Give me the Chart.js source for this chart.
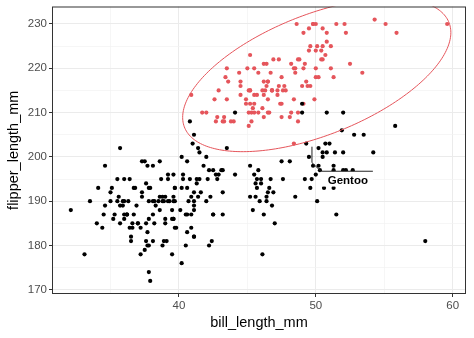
<!DOCTYPE html>
<html>
<head>
<meta charset="utf-8">
<script src="https://cdn.jsdelivr.net/npm/chart.js@4.4.1/dist/chart.umd.min.js"></script>
<style>
  html, body { margin: 0; padding: 0; background: #fff; }
  canvas { display: block; }
</style>
</head>
<body>
<canvas id="scatter" width="474" height="338"></canvas>
<script>
// bill_length_mm / flipper_length_mm per species
const adelieBill = [39.1,39.5,40.3,36.7,39.3,38.9,39.2,34.1,42.0,37.8,37.8,41.1,38.6,34.6,36.6,38.7,42.5,34.4,46.0,
  37.8,37.7,35.9,38.2,38.8,35.3,40.6,40.5,37.9,40.5,
  39.5,37.2,39.5,40.9,36.4,39.2,38.8,42.2,37.6,39.8,36.5,40.8,36.0,44.1,37.0,39.6,41.1,37.5,36.0,42.3,
  39.6,40.1,35.0,42.0,34.5,41.4,39.0,40.6,36.5,37.6,35.7,41.3,37.6,41.1,36.4,41.6,35.5,41.1,
  35.9,41.8,33.5,39.7,39.6,45.8,35.5,42.8,40.9,37.2,36.2,42.1,34.6,42.9,36.7,35.1,
  37.3,41.3,36.3,36.9,38.3,38.9,35.7,41.1,34.0,39.6,36.2,40.8,38.1,40.3,33.1,43.2,
  35.0,41.0,37.7,37.8,37.9,39.7,38.6,38.2,38.1,43.2,38.1,45.6,39.7,42.2,39.6,42.7,
  38.6,37.3,35.7,41.1,36.2,37.7,40.2,41.4,35.2,40.6,38.8,41.5,39.0,44.1,38.5,43.1,
  36.8,37.5,38.1,41.1,35.6,40.2,37.0,39.7,40.2,40.6,32.1,40.7,37.3,39.0,39.2,36.6,36.0,37.8,36.0,41.5];
const adelieFlipper = [181,186,195,193,190,181,195,193,190,186,180,182,191,198,185,195,197,184,194,
  174,180,189,185,180,187,183,187,172,180,
  178,178,188,184,195,196,190,180,181,184,182,195,186,196,185,190,182,179,190,191,
  186,188,190,200,187,191,186,193,181,194,185,195,185,192,184,192,195,188,
  190,198,190,190,196,197,190,195,191,184,187,195,189,196,187,193,
  191,194,190,189,189,190,202,205,185,186,187,208,190,196,178,192,
  192,203,183,190,193,184,199,190,181,197,198,191,193,197,191,196,
  188,199,189,189,187,198,176,202,186,199,191,195,191,210,190,197,
  193,199,187,190,191,200,185,193,193,187,188,190,192,185,190,184,195,193,187,201];

const gentooBill = [46.1,50.0,48.7,50.0,47.6,46.5,45.4,46.7,43.3,46.8,
  40.9,49.0,45.5,48.4,45.8,49.3,42.0,49.2,46.2,48.7,
  50.2,45.1,46.5,46.3,42.9,46.1,44.5,47.8,48.2,50.0,
  47.3,42.8,45.1,59.6,49.1,48.4,42.6,44.4,44.0,48.7,
  42.7,49.6,45.3,49.6,50.5,43.6,45.5,50.5,44.9,45.2,
  46.6,48.5,45.1,50.1,46.5,45.0,43.8,45.5,43.2,50.4,
  45.3,46.2,45.7,54.3,45.8,49.8,46.2,49.5,43.5,50.7,
  47.7,46.4,48.2,46.5,46.4,48.6,47.5,51.1,45.2,45.2,
  49.1,52.5,47.4,50.0,44.9,50.8,43.4,51.3,47.5,52.1,
  47.5,52.2,45.5,49.5,44.5,50.8,49.4,46.9,48.4,51.1,
  48.5,55.9,47.2,49.1,47.3,46.8,41.7,53.4,43.3,48.1,
  50.5,49.8,43.5,51.5,46.2,55.1,44.5,48.8,47.2,46.8,
  50.4,45.2,49.9];
const gentooFlipper = [211,230,210,218,215,210,211,219,209,215,
  214,216,214,213,210,217,210,221,209,222,
  218,215,213,215,215,215,216,215,210,220,
  222,209,207,230,220,220,213,219,208,208,
  208,225,210,216,222,217,210,225,213,215,
  210,220,210,225,217,220,208,220,208,224,
  208,221,214,231,219,230,214,229,220,223,
  216,221,221,217,216,230,209,220,215,223,
  212,221,212,224,212,228,218,218,212,230,
  218,228,212,224,214,226,216,222,203,225,
  219,228,215,228,216,215,210,219,208,209,
  229,230,213,230,217,230,217,222,214,215,
  222,212,213];

const chinstrapBill = [46.5,50.0,51.3,45.4,52.7,45.2,46.1,51.3,46.0,51.3,
  46.6,51.7,47.0,52.0,45.9,50.5,50.3,58.0,46.4,49.2,
  42.4,48.5,43.2,50.6,46.7,52.0,50.5,49.5,46.4,52.8,
  40.9,54.2,42.5,51.0,49.7,47.5,47.6,52.0,46.9,53.5,
  49.0,46.2,50.9,45.5,50.9,50.8,50.1,49.0,51.5,49.8,
  48.1,51.4,45.7,50.7,42.5,52.2,45.2,49.3,50.2,45.6,
  51.9,46.8,45.7,55.8,43.5,49.6,50.8,50.2];
const chinstrapFlipper = [192,196,193,188,197,198,178,197,195,198,
  193,194,185,201,190,201,197,181,190,195,
  181,191,187,193,195,197,200,200,191,205,
  187,201,187,203,195,199,195,210,192,205,
  210,187,196,196,196,201,190,212,187,198,
  199,201,193,203,187,197,191,203,202,194,
  206,189,195,207,202,193,210,198];

// axis ticks (labelled ones + minor grid)
const xGrid = [35, 40, 45, 50, 55, 60];
const xLabels = [40, 50, 60];
const yGrid = [170, 175, 180, 185, 190, 195, 200, 205, 210, 215, 220, 225, 230];
const yLabels = [170, 180, 190, 200, 210, 220, 230];

// Gentoo mark ellipse (data units): centre + shape matrix
const ellCentre = [50.07, 218.5];
const ellShape = [[96.0, 93.8], [93.8, 300.0]];

// label + connector (data units)
const markLabel = 'Gentoo';
const conX = [49.72, 49.72, 50.37];
const conY = [202.3, 198.7, 196.76];
const boxX = [50.37, 54.17];
const boxY = [196.76, 193.3];

const RED = '#E5555B';

const toPts = (xs, ys) => xs.map((v, i) => ({ x: v, y: ys[i] }));

const markPlugin = {
  id: 'gentooMark',
  afterDatasetsDraw(chart) {
    const { ctx, chartArea: ca, scales: { x, y } } = chart;
    // cholesky of the shape matrix -> parametric ellipse
    const l11 = Math.sqrt(ellShape[0][0]);
    const l21 = ellShape[1][0] / l11;
    const l22 = Math.sqrt(ellShape[1][1] - l21 * l21);
    ctx.save();
    ctx.beginPath();
    ctx.rect(ca.left, ca.top, ca.right - ca.left, ca.bottom - ca.top);
    ctx.clip();
    ctx.beginPath();
    for (let i = 0; i <= 240; i++) {
      const t = i / 240 * Math.PI * 2;
      const vx = ellCentre[0] + l11 * Math.cos(t);
      const vy = ellCentre[1] + l21 * Math.cos(t) + l22 * Math.sin(t);
      const px = x.getPixelForValue(vx), py = y.getPixelForValue(vy);
      if (i === 0) ctx.moveTo(px, py); else ctx.lineTo(px, py);
    }
    ctx.closePath();
    ctx.strokeStyle = RED;
    ctx.lineWidth = 1;
    ctx.stroke();

    // label box
    const bx0 = x.getPixelForValue(boxX[0]), bx1 = x.getPixelForValue(boxX[1]);
    const by0 = y.getPixelForValue(boxY[0]), by1 = y.getPixelForValue(boxY[1]);
    ctx.fillStyle = '#fff';
    ctx.fillRect(bx0, by0, bx1 - bx0, by1 - by0);
    ctx.beginPath();
    ctx.moveTo(x.getPixelForValue(conX[0]), y.getPixelForValue(conY[0]));
    for (let i = 1; i < conX.length; i++) ctx.lineTo(x.getPixelForValue(conX[i]), y.getPixelForValue(conY[i]));
    ctx.lineTo(bx1, by0);
    ctx.strokeStyle = '#222';
    ctx.lineWidth = 1;
    ctx.stroke();
    ctx.fillStyle = '#000';
    ctx.font = 'bold 11.5px "Liberation Sans", Arial, sans-serif';
    ctx.textAlign = 'center';
    ctx.textBaseline = 'alphabetic';
    ctx.fillText(markLabel, (bx0 + bx1) / 2 + 1, by0 + 12.8);
    ctx.restore();

    // panel border
    ctx.save();
    ctx.strokeStyle = '#333333';
    ctx.lineWidth = 1;
    ctx.strokeRect(ca.left + 0.5, ca.top + 0.5, ca.right - ca.left - 1, ca.bottom - ca.top - 1);
    ctx.restore();
  }
};

const tickFont = { family: '"Liberation Sans", Arial, sans-serif', size: 11.5 };
const titleFont = { family: '"Liberation Sans", Arial, sans-serif', size: 14.5 };

const ctx = document.getElementById('scatter').getContext('2d');
new Chart(ctx, {
  type: 'scatter',
  data: {
    datasets: [
      { label: 'Chinstrap', data: toPts(chinstrapBill, chinstrapFlipper), backgroundColor: '#000', order: 1 },
      { label: 'Gentoo', data: toPts(gentooBill, gentooFlipper), backgroundColor: RED, order: 2 },
      { label: 'Adelie', data: toPts(adelieBill, adelieFlipper), backgroundColor: '#000', order: 3 }
    ]
  },
  options: {
    responsive: false,
    animation: false,
    layout: { padding: { top: 6.5, right: 8, left: 0, bottom: 0 } },
    elements: { point: { radius: 2.1, borderWidth: 0, hoverRadius: 2.1 } },
    plugins: { legend: { display: false }, tooltip: { enabled: false } },
    scales: {
      x: {
        type: 'linear',
        min: 30.725,
        max: 60.975,
        afterBuildTicks: s => { s.ticks = xGrid.map(v => ({ value: v })); },
        afterFit: s => { s.height = 44; s.paddingLeft = 0; s.paddingRight = 0; },
        ticks: {
          autoSkip: false,
          maxRotation: 0,
          padding: 2,
          color: '#4D4D4D',
          font: tickFont,
          callback: v => xLabels.includes(v) ? String(v) : ''
        },
        grid: {
          color: c => xLabels.includes(c.tick && c.tick.value) ? '#EBEBEB' : '#F2F2F2',
          lineWidth: c => xLabels.includes(c.tick && c.tick.value) ? 1 : 0.7,
          drawTicks: true,
          tickLength: 3,
          tickWidth: 1,
          tickColor: c => xLabels.includes(c.tick && c.tick.value) ? '#333333' : 'rgba(0,0,0,0)'
        },
        border: { display: false },
        title: { display: true, text: 'bill_length_mm', color: '#000', font: titleFont, padding: { top: 0, bottom: 6 } }
      },
      y: {
        type: 'linear',
        min: 169.05,
        max: 233.95,
        afterBuildTicks: s => { s.ticks = yGrid.map(v => ({ value: v })); },
        afterFit: s => { s.width = 52; s.paddingTop = 0; s.paddingBottom = 0; },
        ticks: {
          autoSkip: false,
          padding: 2,
          color: '#4D4D4D',
          font: tickFont,
          callback: v => yLabels.includes(v) ? String(v) : ''
        },
        grid: {
          color: c => yLabels.includes(c.tick && c.tick.value) ? '#EBEBEB' : '#F2F2F2',
          lineWidth: c => yLabels.includes(c.tick && c.tick.value) ? 1 : 0.7,
          drawTicks: true,
          tickLength: 3,
          tickWidth: 1,
          tickColor: c => yLabels.includes(c.tick && c.tick.value) ? '#333333' : 'rgba(0,0,0,0)'
        },
        border: { display: false },
        title: { display: true, text: 'flipper_length_mm', color: '#000', font: titleFont, padding: { top: 5, bottom: 0 } }
      }
    }
  },
  plugins: [markPlugin]
});
</script>
</body>
</html>
